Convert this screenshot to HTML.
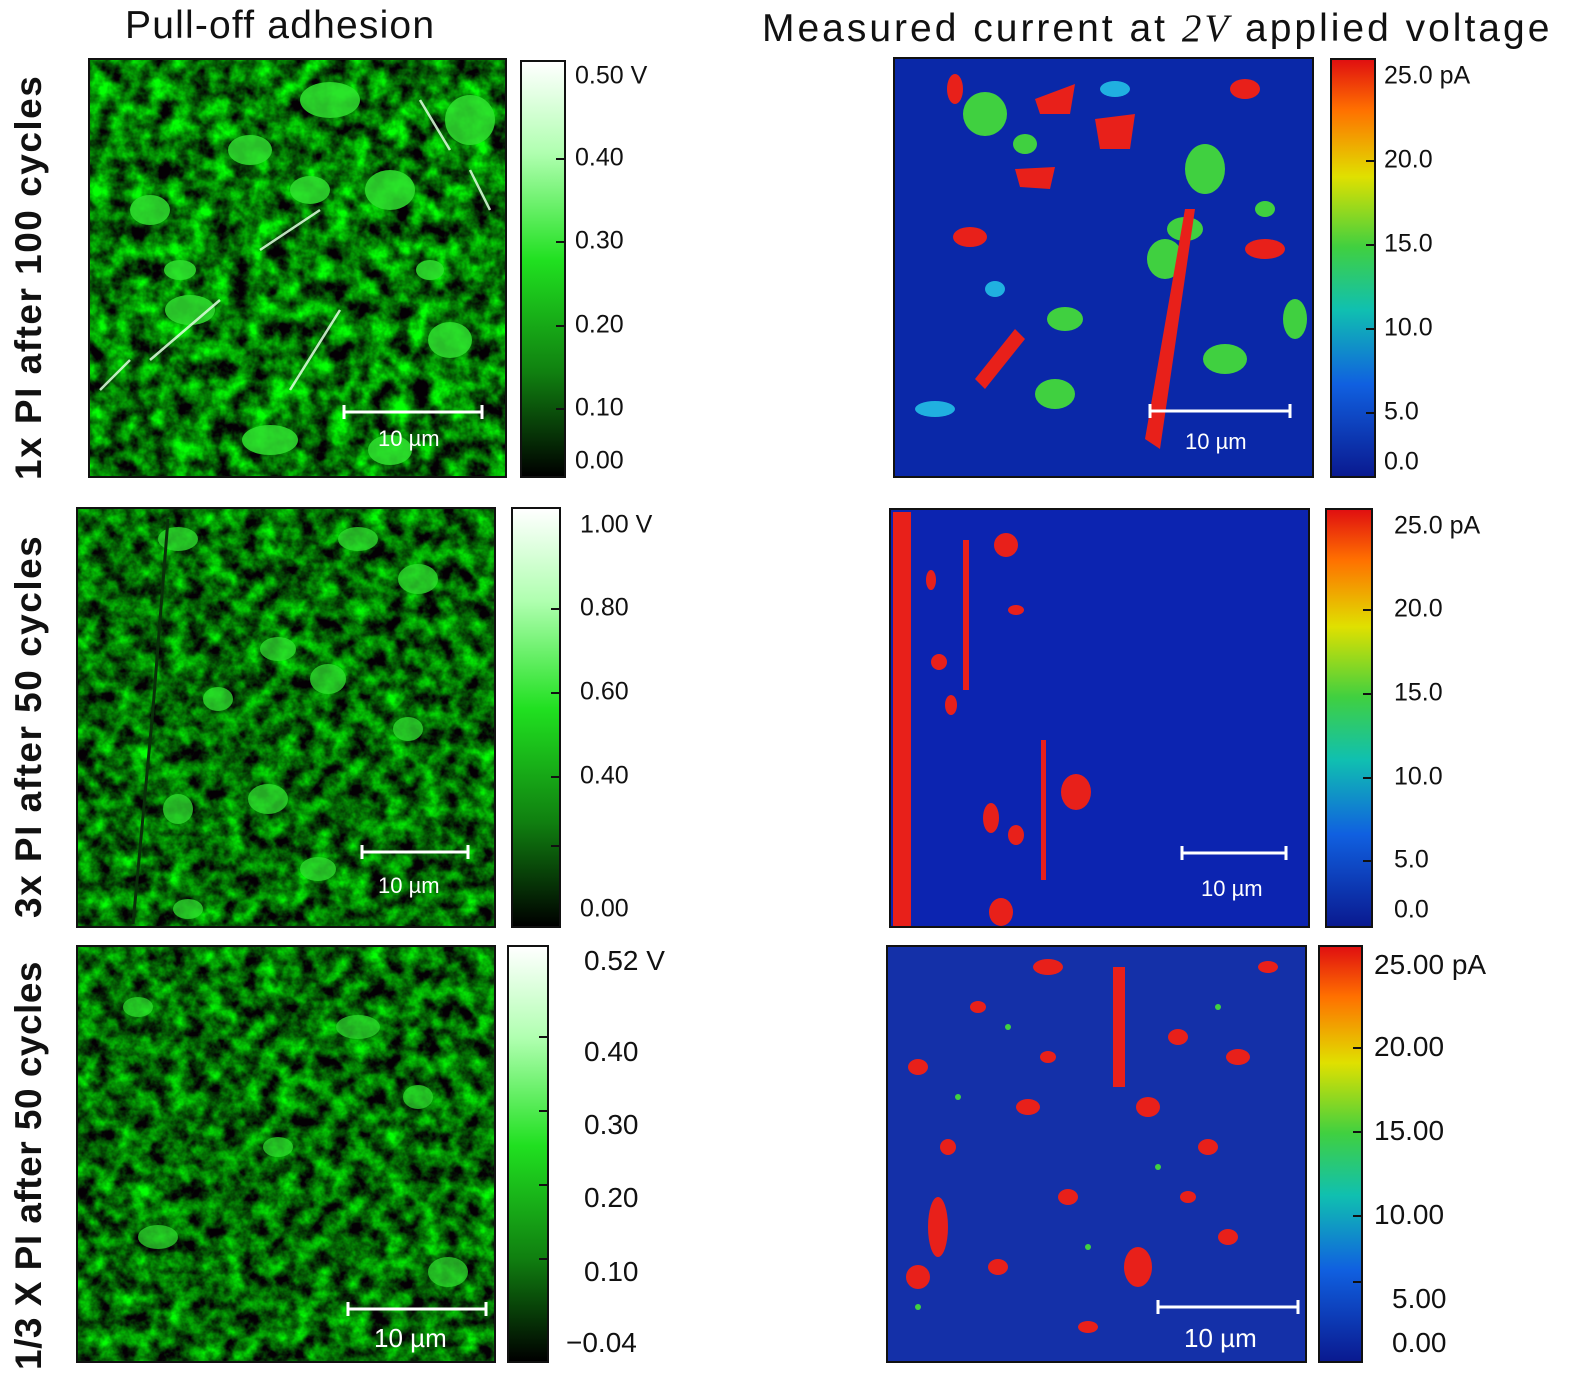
<!DOCTYPE html>
<html><head><meta charset="utf-8"><style>
body{margin:0;background:#fff;width:1570px;height:1385px;position:relative;overflow:hidden;font-family:"Liberation Sans",sans-serif}
.t{position:absolute;font-size:39px;color:#111;white-space:nowrap;letter-spacing:1.2px}
.r{position:absolute;font-weight:bold;font-size:37px;color:#111;white-space:nowrap;transform:rotate(-90deg);transform-origin:0 0;letter-spacing:1.5px}
.l{position:absolute;font-size:25px;color:#111;white-space:nowrap;transform:translateY(-50%)}
.cb{position:absolute;border:2px solid #111;box-sizing:border-box}
.g{background:linear-gradient(to bottom,#fff 0%,#b0ffb0 22%,#20e020 48%,#108010 75%,#000 100%)}
.j{background:linear-gradient(to bottom,#e01010 0%,#ff7000 12%,#e0e000 28%,#40d040 45%,#10c0b0 60%,#1060e0 78%,#0a1a90 100%)}
svg.img{position:absolute;border:2px solid #111;box-sizing:border-box}
.tk{position:absolute;height:2px;width:10px;background:#111}
</style></head><body>
<svg width="0" height="0" style="position:absolute">
<defs>
<filter id="gr" x="0" y="0" width="100%" height="100%" color-interpolation-filters="sRGB"><feTurbulence type="fractalNoise" baseFrequency="0.05" numOctaves="4" seed="3"/><feColorMatrix values="0 0 0 0 0.02  1.9 0 0 0 -0.5  0 0 0 0 0.02  0 0 0 0 1"/></filter>
<filter id="gr2" x="0" y="0" width="100%" height="100%" color-interpolation-filters="sRGB"><feTurbulence type="fractalNoise" baseFrequency="0.055" numOctaves="4" seed="7"/><feColorMatrix values="0 0 0 0 0.02  1.7 0 0 0 -0.45  0 0 0 0 0.02  0 0 0 0 1"/></filter>
</defs></svg>

<div class="t" style="left:125px;top:4px">Pull-off adhesion</div>
<div class="t" style="left:762px;top:6px;letter-spacing:3px">Measured current at <i style="font-family:'Liberation Serif',serif">2V</i> applied voltage</div>

<div class="r" style="left:8px;top:480px">1x PI after 100 cycles</div>
<div class="r" style="left:8px;top:918px">3x PI after 50 cycles</div>
<div class="r" style="left:8px;top:1370px;letter-spacing:0.5px">1/3 X PI after 50 cycles</div>

<!-- Row 1 left -->
<svg class="img" style="left:88px;top:58px" width="419" height="420"><rect width="419" height="420" filter="url(#gr)"/>
<g fill="#30e030" opacity=".85"><ellipse cx="240" cy="40" rx="30" ry="18"/><ellipse cx="300" cy="130" rx="25" ry="20"/><ellipse cx="160" cy="90" rx="22" ry="15"/><ellipse cx="380" cy="60" rx="25" ry="25"/><ellipse cx="100" cy="250" rx="25" ry="15"/><ellipse cx="360" cy="280" rx="22" ry="18"/><ellipse cx="60" cy="150" rx="20" ry="15"/><ellipse cx="180" cy="380" rx="28" ry="15"/><ellipse cx="300" cy="390" rx="22" ry="15"/><ellipse cx="220" cy="130" rx="20" ry="14"/><ellipse cx="90" cy="210" rx="16" ry="10"/><ellipse cx="340" cy="210" rx="14" ry="10"/></g>
<g stroke="#e0ffe0" stroke-width="2.5" fill="none" opacity=".85"><path d="M60 300 L130 240"/><path d="M170 190 L230 150"/><path d="M250 250 L200 330"/><path d="M330 40 L360 90"/><path d="M10 330 L40 300"/><path d="M380 110 L400 150"/></g>
<line x1="254" y1="352" x2="392" y2="352" stroke="#fff" stroke-width="3"/><line x1="254" y1="345" x2="254" y2="359" stroke="#fff" stroke-width="3"/><line x1="392" y1="345" x2="392" y2="359" stroke="#fff" stroke-width="3"/>
<text x="288" y="386" fill="#fff" font-size="22" font-family="Liberation Sans">10 µm</text></svg>
<div class="cb g" style="left:520px;top:60px;width:46px;height:418px"></div>
<div class="tk" style="left:556px;top:158px"></div><div class="tk" style="left:556px;top:241px"></div><div class="tk" style="left:556px;top:325px"></div><div class="tk" style="left:556px;top:408px"></div>
<div class="l" style="left:575px;top:76px">0.50 V</div><div class="l" style="left:575px;top:158px">0.40</div><div class="l" style="left:575px;top:241px">0.30</div><div class="l" style="left:575px;top:325px">0.20</div><div class="l" style="left:575px;top:408px">0.10</div><div class="l" style="left:575px;top:461px">0.00</div>

<!-- Row 1 right -->
<svg class="img" style="left:893px;top:57px" width="421" height="421"><rect width="421" height="421" fill="#0a28a8"/>
<g fill="#40d040"><ellipse cx="90" cy="55" rx="22" ry="22"/><ellipse cx="310" cy="110" rx="20" ry="25"/><ellipse cx="290" cy="170" rx="18" ry="12"/><ellipse cx="270" cy="200" rx="18" ry="20"/><ellipse cx="170" cy="260" rx="18" ry="12"/><ellipse cx="330" cy="300" rx="22" ry="15"/><ellipse cx="160" cy="335" rx="20" ry="15"/><ellipse cx="400" cy="260" rx="12" ry="20"/><ellipse cx="130" cy="85" rx="12" ry="10"/><ellipse cx="370" cy="150" rx="10" ry="8"/></g>
<g fill="#e8201a"><polygon points="140,40 180,25 175,55 145,55"/><polygon points="200,60 240,55 235,90 205,90"/><polygon points="120,110 160,108 155,130 125,128"/><ellipse cx="75" cy="178" rx="17" ry="10"/><ellipse cx="370" cy="190" rx="20" ry="10"/><path d="M250 380 L290 150 L300 150 L265 390Z"/><path d="M80 320 L120 270 L130 280 L90 330Z"/><ellipse cx="350" cy="30" rx="15" ry="10"/><ellipse cx="60" cy="30" rx="8" ry="15"/></g>
<g fill="#20b0e0"><ellipse cx="40" cy="350" rx="20" ry="8"/><ellipse cx="220" cy="30" rx="15" ry="8"/><ellipse cx="100" cy="230" rx="10" ry="8"/></g>
<line x1="255" y1="352" x2="395" y2="352" stroke="#fff" stroke-width="3"/><line x1="255" y1="345" x2="255" y2="359" stroke="#fff" stroke-width="3"/><line x1="395" y1="345" x2="395" y2="359" stroke="#fff" stroke-width="3"/>
<text x="290" y="390" fill="#fff" font-size="22" font-family="Liberation Sans">10 µm</text></svg>
<div class="cb j" style="left:1330px;top:58px;width:46px;height:420px"></div>
<div class="tk" style="left:1366px;top:160px"></div><div class="tk" style="left:1366px;top:244px"></div><div class="tk" style="left:1366px;top:328px"></div><div class="tk" style="left:1366px;top:412px"></div>
<div class="l" style="left:1384px;top:76px">25.0 pA</div><div class="l" style="left:1384px;top:160px">20.0</div><div class="l" style="left:1384px;top:244px">15.0</div><div class="l" style="left:1384px;top:328px">10.0</div><div class="l" style="left:1384px;top:412px">5.0</div><div class="l" style="left:1384px;top:462px">0.0</div>

<!-- Row 2 left -->
<svg class="img" style="left:76px;top:507px" width="420" height="421"><rect width="420" height="421" filter="url(#gr2)"/>
<g fill="#30e030" opacity=".75"><ellipse cx="100" cy="30" rx="20" ry="12"/><ellipse cx="280" cy="30" rx="20" ry="12"/><ellipse cx="340" cy="70" rx="20" ry="15"/><ellipse cx="200" cy="140" rx="18" ry="12"/><ellipse cx="250" cy="170" rx="18" ry="15"/><ellipse cx="140" cy="190" rx="15" ry="12"/><ellipse cx="190" cy="290" rx="20" ry="15"/><ellipse cx="100" cy="300" rx="15" ry="15"/><ellipse cx="330" cy="220" rx="15" ry="12"/><ellipse cx="240" cy="360" rx="18" ry="12"/><ellipse cx="110" cy="400" rx="15" ry="10"/></g>
<path d="M90 10 L75 200 L55 415" stroke="#0a300a" stroke-width="3" fill="none"/>
<line x1="284" y1="343" x2="390" y2="343" stroke="#fff" stroke-width="3"/><line x1="284" y1="336" x2="284" y2="350" stroke="#fff" stroke-width="3"/><line x1="390" y1="336" x2="390" y2="350" stroke="#fff" stroke-width="3"/>
<text x="300" y="384" fill="#fff" font-size="22" font-family="Liberation Sans">10 µm</text></svg>
<div class="cb g" style="left:511px;top:507px;width:50px;height:421px"></div>
<div class="tk" style="left:551px;top:608px"></div><div class="tk" style="left:551px;top:692px"></div><div class="tk" style="left:551px;top:776px"></div><div class="tk" style="left:551px;top:845px"></div>
<div class="l" style="left:580px;top:525px">1.00 V</div><div class="l" style="left:580px;top:608px">0.80</div><div class="l" style="left:580px;top:692px">0.60</div><div class="l" style="left:580px;top:776px">0.40</div><div class="l" style="left:580px;top:909px">0.00</div>

<!-- Row 2 right -->
<svg class="img" style="left:889px;top:508px" width="421" height="420"><rect width="421" height="420" fill="#0c24b0"/>
<g fill="#e8201a"><rect x="2" y="2" width="18" height="416"/><rect x="72" y="30" width="6" height="150"/><ellipse cx="115" cy="35" rx="12" ry="12"/><ellipse cx="48" cy="152" rx="8" ry="8"/><ellipse cx="60" cy="195" rx="6" ry="10"/><ellipse cx="185" cy="282" rx="15" ry="18"/><ellipse cx="100" cy="308" rx="8" ry="15"/><ellipse cx="125" cy="325" rx="8" ry="10"/><ellipse cx="110" cy="402" rx="12" ry="14"/><ellipse cx="40" cy="70" rx="5" ry="10"/><ellipse cx="125" cy="100" rx="8" ry="5"/><rect x="150" y="230" width="5" height="140"/></g>
<line x1="291" y1="343" x2="395" y2="343" stroke="#fff" stroke-width="3"/><line x1="291" y1="336" x2="291" y2="350" stroke="#fff" stroke-width="3"/><line x1="395" y1="336" x2="395" y2="350" stroke="#fff" stroke-width="3"/>
<text x="310" y="386" fill="#fff" font-size="22" font-family="Liberation Sans">10 µm</text></svg>
<div class="cb j" style="left:1325px;top:508px;width:48px;height:420px"></div>
<div class="tk" style="left:1363px;top:609px"></div><div class="tk" style="left:1363px;top:693px"></div><div class="tk" style="left:1363px;top:777px"></div><div class="tk" style="left:1363px;top:860px"></div>
<div class="l" style="left:1394px;top:526px">25.0 pA</div><div class="l" style="left:1394px;top:609px">20.0</div><div class="l" style="left:1394px;top:693px">15.0</div><div class="l" style="left:1394px;top:777px">10.0</div><div class="l" style="left:1394px;top:860px">5.0</div><div class="l" style="left:1394px;top:910px">0.0</div>

<!-- Row 3 left -->
<svg class="img" style="left:76px;top:945px" width="420" height="418"><rect width="420" height="418" filter="url(#gr2)"/>
<g fill="#30e030" opacity=".7"><ellipse cx="80" cy="290" rx="20" ry="12"/><ellipse cx="370" cy="325" rx="20" ry="15"/><ellipse cx="280" cy="80" rx="22" ry="12"/><ellipse cx="60" cy="60" rx="15" ry="10"/><ellipse cx="200" cy="200" rx="15" ry="10"/><ellipse cx="340" cy="150" rx="15" ry="12"/></g>
<line x1="270" y1="362" x2="408" y2="362" stroke="#fff" stroke-width="3"/><line x1="270" y1="355" x2="270" y2="369" stroke="#fff" stroke-width="3"/><line x1="408" y1="355" x2="408" y2="369" stroke="#fff" stroke-width="3"/>
<text x="296" y="400" fill="#fff" font-size="26" font-family="Liberation Sans">10 µm</text></svg>
<div class="cb g" style="left:507px;top:945px;width:42px;height:418px"></div>
<div class="tk" style="left:539px;top:1036px"></div><div class="tk" style="left:539px;top:1110px"></div><div class="tk" style="left:539px;top:1184px"></div><div class="tk" style="left:539px;top:1258px"></div>
<div class="l" style="left:584px;top:961px;font-size:28px">0.52 V</div><div class="l" style="left:584px;top:1052px;font-size:28px">0.40</div><div class="l" style="left:584px;top:1125px;font-size:28px">0.30</div><div class="l" style="left:584px;top:1198px;font-size:28px">0.20</div><div class="l" style="left:584px;top:1272px;font-size:28px">0.10</div><div class="l" style="left:566px;top:1343px;font-size:28px">−0.04</div>

<!-- Row 3 right -->
<svg class="img" style="left:886px;top:945px" width="421" height="418"><rect width="421" height="418" fill="#1430a8"/>
<g fill="#e8201a"><rect x="225" y="20" width="12" height="120"/><ellipse cx="160" cy="20" rx="15" ry="8"/><ellipse cx="30" cy="120" rx="10" ry="8"/><ellipse cx="60" cy="200" rx="8" ry="8"/><ellipse cx="140" cy="160" rx="12" ry="8"/><ellipse cx="290" cy="90" rx="10" ry="8"/><ellipse cx="350" cy="110" rx="12" ry="8"/><ellipse cx="50" cy="280" rx="10" ry="30"/><ellipse cx="30" cy="330" rx="12" ry="12"/><ellipse cx="260" cy="160" rx="12" ry="10"/><ellipse cx="250" cy="320" rx="14" ry="20"/><ellipse cx="180" cy="250" rx="10" ry="8"/><ellipse cx="320" cy="200" rx="10" ry="8"/><ellipse cx="380" cy="20" rx="10" ry="6"/><ellipse cx="110" cy="320" rx="10" ry="8"/><ellipse cx="340" cy="290" rx="10" ry="8"/><ellipse cx="90" cy="60" rx="8" ry="6"/><ellipse cx="200" cy="380" rx="10" ry="6"/><ellipse cx="300" cy="250" rx="8" ry="6"/><ellipse cx="160" cy="110" rx="8" ry="6"/></g>
<g fill="#40d040"><circle cx="120" cy="80" r="3"/><circle cx="70" cy="150" r="3"/><circle cx="200" cy="300" r="3"/><circle cx="330" cy="60" r="3"/><circle cx="30" cy="360" r="3"/><circle cx="270" cy="220" r="3"/></g>
<line x1="270" y1="360" x2="410" y2="360" stroke="#fff" stroke-width="3"/><line x1="270" y1="353" x2="270" y2="367" stroke="#fff" stroke-width="3"/><line x1="410" y1="353" x2="410" y2="367" stroke="#fff" stroke-width="3"/>
<text x="296" y="400" fill="#fff" font-size="26" font-family="Liberation Sans">10 µm</text></svg>
<div class="cb j" style="left:1318px;top:945px;width:45px;height:418px"></div>
<div class="tk" style="left:1353px;top:1047px"></div><div class="tk" style="left:1353px;top:1131px"></div><div class="tk" style="left:1353px;top:1215px"></div><div class="tk" style="left:1353px;top:1281px"></div>
<div class="l" style="left:1374px;top:965px;font-size:28px">25.00 pA</div><div class="l" style="left:1374px;top:1047px;font-size:28px">20.00</div><div class="l" style="left:1374px;top:1131px;font-size:28px">15.00</div><div class="l" style="left:1374px;top:1215px;font-size:28px">10.00</div><div class="l" style="left:1392px;top:1299px;font-size:28px">5.00</div><div class="l" style="left:1392px;top:1343px;font-size:28px">0.00</div>
</body></html>
